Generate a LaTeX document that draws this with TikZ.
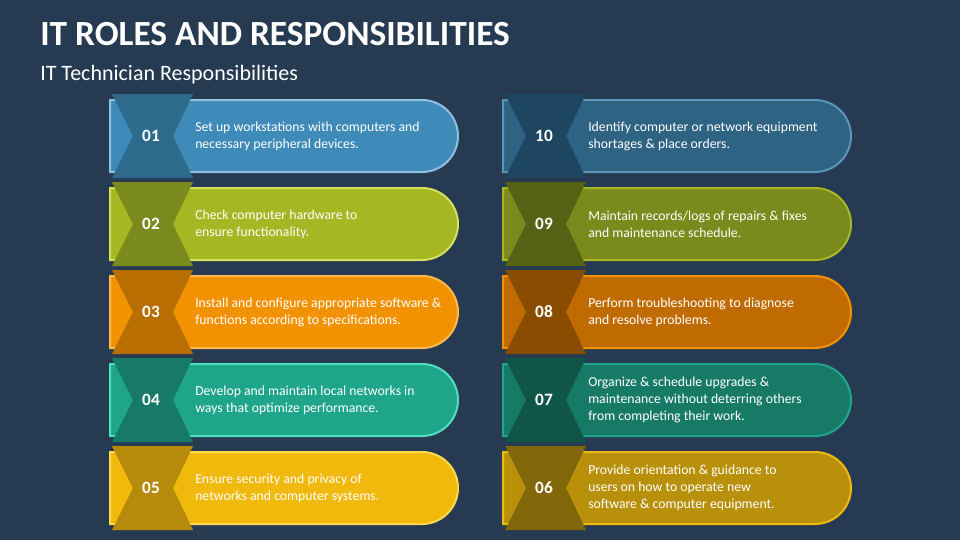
\documentclass[tikz,border=0pt]{standalone}
\usepackage{fontspec}
\setmainfont{Carlito}
\begin{document}
\begin{tikzpicture}[x=0.75pt,y=-0.75pt,
  txt/.style={anchor=west,text=white,font=\fontsize{10.3}{12.8}\selectfont,align=left,inner sep=0pt},
  num/.style={text=white,font=\fontsize{13}{15}\selectfont\bfseries}]
\definecolor{bg}{HTML}{263A52}
\fill[bg] (0,0) rectangle (960,540);
\useasboundingbox (0,0) rectangle (960,540);
\node[anchor=base west,text=white,font=\fontsize{26.5}{30}\selectfont\bfseries,inner sep=0pt] (title) at (40,45) {IT ROLES AND RESPONSIBILITIES};
\node[anchor=base west,text=white,font=\fontsize{16.5}{19}\selectfont,inner sep=0pt] (sub) at (40,80) {IT Technician Responsibilities};
\newcommand\rowitem[7]{%
  \definecolor{pc}{HTML}{#3}\definecolor{dc}{HTML}{#4}\definecolor{bc}{HTML}{#5}%
  \filldraw[fill=pc,draw=bc,line width=1.5pt] (#1,#2-36) -- (#1+312,#2-36) arc[start angle=-90,end angle=90,radius=36] -- (#1,#2+36) -- cycle;
  \fill[dc] (#1+2,#2-42) -- (#1+83,#2-42) -- (#1+63,#2) -- (#1+83,#2+42) -- (#1+2,#2+42) -- (#1+23,#2) -- cycle;
  \node[num] (n#6) at (#1+41,#2) {#6};
  \node[txt] (t#6) at (#1+85,#2) {#7};}
\rowitem{110}{136}{3E8AB8}{2D6A8C}{8FC0DE}{01}{Set up workstations with computers and\\necessary peripheral devices.}
\rowitem{110}{224}{A5B823}{7A8A1C}{D4E05A}{02}{Check computer hardware to\\ensure functionality.}
\rowitem{110}{312}{F39200}{B86E00}{FFB84D}{03}{Install and configure appropriate software \&\\functions according to specifications.}
\rowitem{110}{400}{1FA58A}{177A66}{4FE0C0}{04}{Develop and maintain local networks in\\ways that optimize performance.}
\rowitem{110}{488}{F0B90B}{B68A0A}{FFD84D}{05}{Ensure security and privacy of\\networks and computer systems.}
\rowitem{503}{136}{2E6383}{1F4660}{5C95B8}{10}{Identify computer or network equipment\\shortages \& place orders.}
\rowitem{503}{224}{7A8A1C}{556114}{A5B823}{09}{Maintain records/logs of repairs \& fixes\\and maintenance schedule.}
\rowitem{503}{312}{C06B00}{8A4D00}{F39200}{08}{Perform troubleshooting to diagnose\\and resolve problems.}
\rowitem{503}{400}{177A66}{0F5548}{1FA58A}{07}{Organize \& schedule upgrades \&\\maintenance without deterring others\\from completing their work.}
\rowitem{503}{488}{B8900A}{82660A}{F0B90B}{06}{Provide orientation \& guidance to\\users on how to operate new\\software \& computer equipment.}
\end{tikzpicture}
\end{document}
